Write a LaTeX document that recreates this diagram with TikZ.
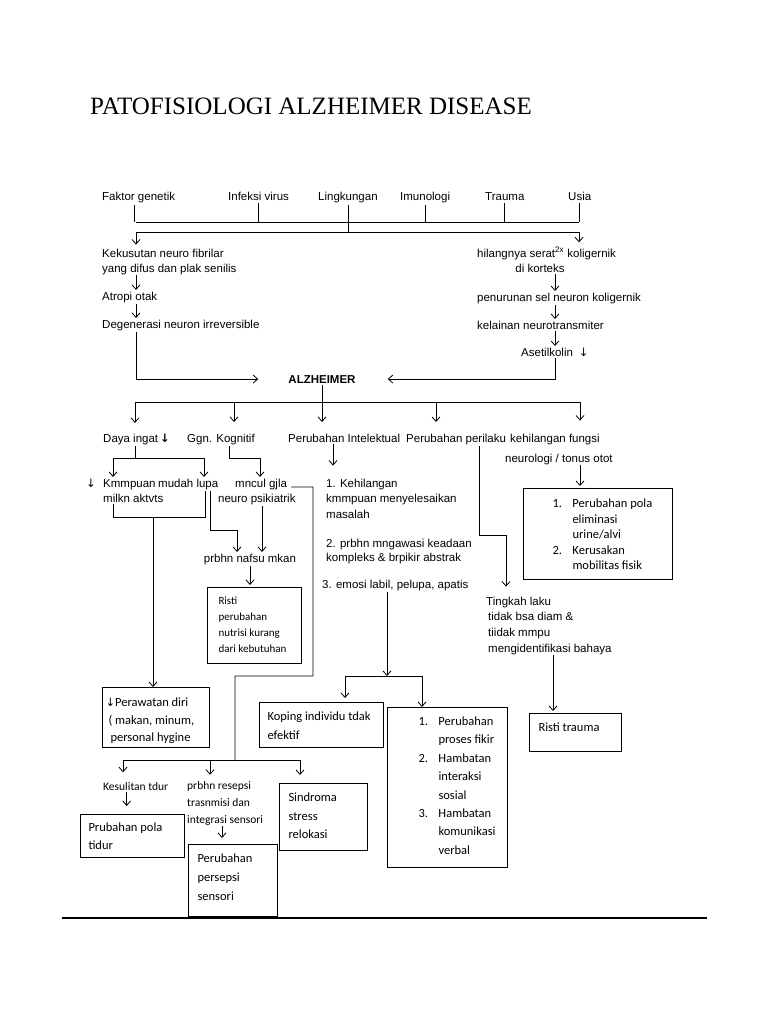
\documentclass[tikz,border=0pt]{standalone}
\usepackage{fontspec}
\setmainfont{Liberation Sans}
\newfontfamily\ttlfont{Liberation Serif}
\newfontfamily\calfont{Carlito}
\newfontfamily\djfont{DejaVu Sans}
\usetikzlibrary{arrows.meta}
\newcommand{\dnarr}{{\djfont\fontsize{11.5}{12}\selectfont ↓}}
\newcommand{\numl}[1]{\leavevmode\llap{\makebox[20pt][l]{#1}}}
\newcommand{\bxt}[7]{\parbox[c][#2][t]{#1}{\fontsize{#5}{#6}\selectfont\vspace*{#3}\raggedright\leftskip=#4\relax\parindent=0pt #7}}
\begin{document}
\begin{tikzpicture}[x=1pt,y=-1pt,
 lbl/.style={anchor=base west, inner xsep=0pt, inner ysep=1.5pt, font=\fontsize{11.5}{14}\selectfont},
 blk/.style={anchor=north west, inner sep=0pt, align=left},
 arr/.style={line width=0.8pt, -{Straight Barb[length=4.5pt,width=8pt,line width=0.8pt]}},
 ln/.style={line width=0.8pt},
 bx/.style={draw, line width=1pt, anchor=north west, inner sep=0pt, font=\calfont},
 cal/.style={font=\calfont\fontsize{11.5}{14}\selectfont},
]
\useasboundingbox[fill=white] (0,0) rectangle (768,1024);

% title
\node[anchor=base west, inner sep=0pt, font=\ttlfont\fontsize{25}{30}\selectfont] (title) at (90,115) {PATOFISIOLOGI ALZHEIMER DISEASE};

% top causes
\node[lbl] (fg) at (102,201) {Faktor genetik};
\node[lbl] (iv) at (228,201) {Infeksi virus};
\node[lbl] (lk) at (318,201) {Lingkungan};
\node[lbl] (im) at (400,201) {Imunologi};
\node[lbl] (tr) at (485,201) {Trauma};
\node[lbl] (us) at (568,201) {Usia};

% left chain
\node[blk, font=\fontsize{11.5}{15}\selectfont] (kek) at (102,248.6) {Kekusutan neuro fibrilar\\yang difus dan plak senilis};
\node[lbl] (at) at (102,300) {Atropi otak};
\node[lbl] (dg) at (102,328) {Degenerasi neuron irreversible};

% right chain
\node[lbl] (hs) at (477,257) {hilangnya serat\textsuperscript{2x} koligernik};
\node[lbl, anchor=base] (dk) at (540,272) {di korteks};
\node[lbl] (pn2) at (477,301) {penurunan sel neuron koligernik};
\node[lbl] (kn) at (477,329) {kelainan neurotransmiter};
\node[lbl] (as) at (521,356) {Asetilkolin\hspace{6pt}\dnarr};

\node[lbl, anchor=base, font=\bfseries\fontsize{11.5}{14}\selectfont] (alz) at (322,383) {ALZHEIMER};

% second row
\node[lbl] (di) at (103,442) {Daya ingat\,{\bfseries\dnarr}};
\node[lbl] (gk) at (187,442) {Ggn. Kognitif};
\node[lbl] (pi) at (288,442) {Perubahan Intelektual};
\node[lbl] (pb) at (406,442) {Perubahan perilaku};
\node[blk, font=\fontsize{11.5}{20}\selectfont] (kf) at (505,433.6) {\hspace*{5pt}kehilangan fungsi\\neurologi / tonus otot};

% third row
\node[lbl] (km1) at (86,487) {\makebox[17pt][l]{\dnarr}Kmmpuan};
\node[lbl] (km2) at (103,502) {milkn aktvts};
\node[lbl] (ml) at (158,487) {mudah lupa};
\node[lbl] (mg) at (235,487) {mncul gjla};
\node[lbl] (np) at (218,502) {neuro psikiatrik};
\node[lbl, anchor=base] (pn) at (250,562) {prbhn nafsu mkan};

\node[blk, font=\fontsize{11.5}{15.5}\selectfont] (il1) at (326,478.6) {1. Kehilangan\\kmmpuan menyelesaikan\\masalah};
\node[blk, font=\fontsize{11.5}{14.5}\selectfont] (il2) at (326,538.6) {2. prbhn mngawasi keadaan\\kompleks \& brpikir abstrak};
\node[lbl] (il3) at (322,588) {3. emosi labil, pelupa, apatis};

\node[blk, font=\fontsize{11.5}{15.7}\selectfont] (tk) at (486,596.6) {Tingkah laku\\\hspace*{2pt}tidak bsa diam \&\\\hspace*{2pt}tiidak mmpu\\\hspace*{2pt}mengidentifikasi bahaya};

% boxes
\node[bx] (fb) at (523,488) {\bxt{149pt}{91pt}{10.4pt}{49pt}{12.5}{15.5}{\numl{1.}Perubahan pola\\eliminasi\\urine/alvi\\\numl{2.}Kerusakan\\mobilitas fisik}};
\node[bx] (rn) at (207,587) {\bxt{94pt}{76pt}{8.9pt}{11pt}{11}{16}{Risti\\perubahan\\nutrisi kurang\\dari kebutuhan}};
\node[bx] (pw) at (102,687) {\bxt{107pt}{60pt}{10.4pt}{3pt}{12.5}{17.5}{\dnarr Perawatan diri\\\hspace*{3pt}( makan, minum,\\\hspace*{5pt}personal hygine}};
\node[bx] (kp) at (259,702) {\bxt{124pt}{45pt}{9.4pt}{8pt}{12.5}{19}{Koping individu tdak\\efektif}};
\node[bx] (pf) at (387,707) {\bxt{120pt}{160pt}{9.4pt}{51pt}{12.5}{18.4}{\numl{1.}Perubahan\\proses fikir\\\numl{2.}Hambatan\\interaksi\\sosial\\\numl{3.}Hambatan\\komunikasi\\verbal}};
\node[bx] (rt) at (529,713) {\bxt{92pt}{38pt}{9.4pt}{9pt}{12.5}{16}{Risti trauma}};

\node[lbl, cal] (ks) at (103,790) {Kesulitan tdur};
\node[blk, font=\calfont\fontsize{11.5}{17}\selectfont] (pr) at (187,781.7) {prbhn resepsi\\trasnmisi dan\\integrasi sensori};
\node[bx] (pt) at (80,814) {\bxt{104pt}{43pt}{8.4pt}{8pt}{12.5}{18}{Prubahan pola\\tidur}};
\node[bx] (ps) at (188,844) {\bxt{89pt}{72pt}{9.4pt}{9pt}{12.5}{19}{Perubahan\\persepsi\\sensori}};
\node[bx] (sd) at (279,783) {\bxt{88pt}{67pt}{9.4pt}{9pt}{12.5}{18.5}{Sindroma\\stress\\relokasi}};

% ---- connectors: top
\coordinate (b1) at (136,222); \coordinate (b2) at (579,222);
\draw[ln] (b1) -- (b2);
\draw[ln] ([xshift=-4pt]fg.south) -- ([xshift=-4pt]fg.south |- b1);
\draw[ln] (iv.south) -- (iv.south |- b1);
\draw[ln] (im.south) -- (im.south |- b1);
\draw[ln] (tr.south) -- (tr.south |- b1);
\draw[ln] (us.south) -- (us.south |- b1);
\coordinate (c1) at (136,232); \coordinate (c2) at (579,232);
\draw[ln] (lk.south) -- (lk.south |- c1);
\draw[ln] (c1) -- (c2);
\draw[arr, shorten >=4pt] (c1) -- (c1 |- kek.north);
\draw[arr, shorten >=3pt] (c2) -- (c2 |- hs.north);

\coordinate (lc) at (136,0); \coordinate (rc) at (555,0);
\draw[arr] (kek.south -| lc) -- (at.north -| lc);
\draw[arr] (at.south -| lc) -- (dg.north -| lc);
\draw[arr] (dg.south -| lc) |- ([xshift=-30pt]alz.west);
\draw[arr] (dk.south -| rc) -- (pn2.north -| rc);
\draw[arr] (pn2.south -| rc) -- (kn.north -| rc);
\draw[arr] (kn.south -| rc) -- (as.north -| rc);
\draw[arr] (as.south -| rc) |- ([xshift=32pt]alz.east);

% ---- ALZHEIMER fan-out
\coordinate (a1) at (135,402); \coordinate (a2) at (580,402);
\coordinate (d2) at (234,402); \coordinate (d4) at (436,402);
\draw[ln] (alz.south) -- (alz.south |- a1);
\draw[ln] (a1) -- (a2);
\draw[arr, shorten >=9pt] (a1) -- (a1 |- di.north);
\draw[arr, shorten >=10pt] (d2) -- (d2 |- gk.north);
\draw[arr, shorten >=10pt] (alz.south |- a1) -- (alz.south |- pi.north);
\draw[arr, shorten >=10pt] (d4) -- (d4 |- pb.north);
\draw[arr, shorten >=13pt] (a2) -- (a2 |- kf.north);

% ---- Daya ingat
\coordinate (dj) at (135,458); \coordinate (djL) at (113,458); \coordinate (djR) at (204,458);
\draw[ln] (di.south -| dj) -- (dj);
\draw[ln] (djL) -- (djR);
\draw[arr] (djL) -- (djL |- ml.north);
\draw[arr] (djR) -- (djR |- ml.north);
% ---- Ggn Kognitif
\coordinate (gj) at (229,458); \coordinate (gjR) at (260,458);
\draw[ln] (gk.south -| gj) -- (gj) -- (gjR);
\draw[arr] (gjR) -- (gjR |- mg.north);

% bracket Kmmpuan / mudah lupa -> Perawatan diri
\coordinate (brL) at (113,517); \coordinate (brR) at (205,517); \coordinate (brM) at (153,517);
\draw[ln] (km2.south -| brL) -- (brL) -- (brR) -- (ml.south -| brR);
\draw[arr] (brM) -- (brM |- pw.north);

% mudah lupa -> nafsu makan
\coordinate (lp1) at (210,530); \coordinate (lp2) at (237,530);
\draw[arr] (ml.south -| lp1) -- (lp1) -- (lp2) -- (lp2 |- pn.north);
\coordinate (npx) at (262,550);
\draw[arr] (np.south -| npx) -- (npx |- pn.north);
\draw[arr, shorten >=2pt] (pn.south) -- (pn.south |- rn.north);

% mncul gjla -> bottom fan
\coordinate (m1) at (313,487); \coordinate (m2) at (313,676);
\coordinate (m3) at (235,676); \coordinate (m4) at (235,760);
\draw[ln] ([xshift=4pt,yshift=-3pt]mg.east) -- (m1) -- (m2) -- (m3) -- (m4);
\coordinate (bL) at (123,760); \coordinate (bM) at (210,760); \coordinate (bR) at (300,760);
\draw[ln] (bL) -- (bR);
\draw[arr, shorten >=8pt] (bL) -- (bL |- ks.north);
\draw[arr, shorten >=7pt] (bM) -- (bM |- pr.north);
\draw[arr, shorten >=8pt] (bR) -- (bR |- sd.north);
\draw[arr, shorten >=8pt] ([xshift=-9pt]ks.south) -- ([xshift=-9pt]ks.south |- pt.north);
\coordinate (prx) at (222,0);
\draw[arr, shorten >=6pt] (pr.south -| prx) -- (prx |- ps.north);

% Intelektual
\coordinate (pix) at (333,0);
\draw[arr, shorten >=13pt] (pi.south -| pix) -- (pix |- il1.north);
\coordinate (j1) at (387,676); \coordinate (jL) at (345,676); \coordinate (jR) at (422,676);
\draw[arr] (il3.south -| j1) -- (j1);
\draw[ln] (jL) -- (jR);
\draw[arr, shorten >=4pt] (jL) -- (jL |- kp.north);
\draw[arr] (jR) -- (jR |- pf.north);

% perilaku
\coordinate (pp1) at (479,535); \coordinate (pp2) at (506,535);
\draw[arr, shorten >=10pt] (pb.south -| pp1) -- (pp1) -- (pp2) -- (pp2 |- tk.north);
\coordinate (tkx) at (553,0);
\draw[arr, shorten >=2pt] (tk.south -| tkx) -- (tkx |- rt.north);

% fungsi
\coordinate (kfx) at (580,0);
\draw[arr, shorten >=2pt] (kf.south -| kfx) -- (kfx |- fb.north);

% bottom rule
\draw[line width=1.8pt] (62,918) -- (707,918);
\end{tikzpicture}
\end{document}
